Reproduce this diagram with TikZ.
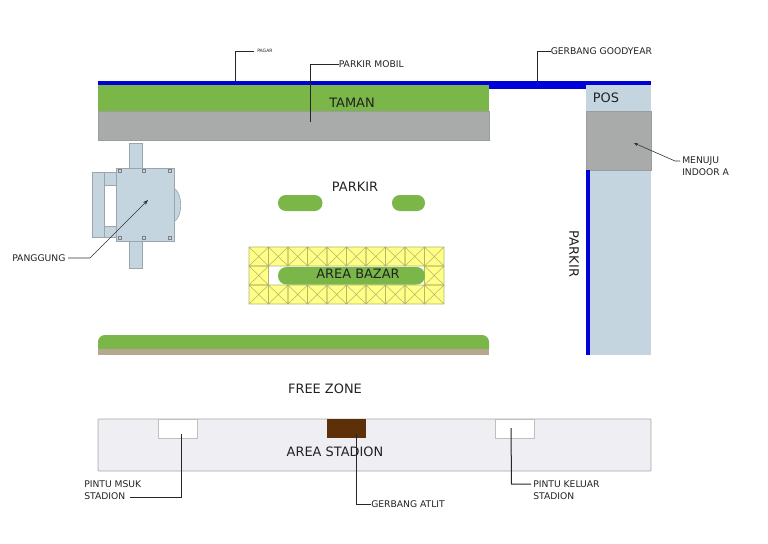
\documentclass[tikz,border=0pt]{standalone}
\usepackage{fontspec}
\setmainfont{DejaVu Sans}
\usetikzlibrary{arrows.meta}
\definecolor{fence}{HTML}{0000D8}
\definecolor{grass}{HTML}{7AB648}
\definecolor{pave}{HTML}{A9ABAA}
\definecolor{sky}{HTML}{C5D5E0}
\definecolor{edgeg}{HTML}{9AA5AC}
\definecolor{tan}{HTML}{B5A88E}
\definecolor{stad}{HTML}{EEEEF3}
\definecolor{brownb}{HTML}{5E3009}
\definecolor{yell}{HTML}{FFFF88}
\definecolor{ink}{HTML}{222222}
\definecolor{tileline}{HTML}{B5B56A}
\tikzset{
  lawn/.style={fill=grass,draw=none},
  paved/.style={fill=pave,draw=pave!92!black,line width=.3pt},
  stagepart/.style={fill=sky,draw=edgeg,line width=.5pt},
  bigtext/.style={font=\fontsize{9.7pt}{11pt}\selectfont,text=ink,inner sep=0pt},
  smalltext/.style={font=\fontsize{6.9pt}{8.8pt}\selectfont,text=ink,inner sep=0pt,align=left},
  leader/.style={draw=black!85,line width=.75pt},
  thin leader/.style={draw=black!80,line width=.45pt},
  door/.style={fill=white,draw=black!25,line width=.4pt},
  bolt/.style={draw=black!50,line width=.3pt,fill=sky},
  tile/.style={draw=tileline,line width=.4pt}
}
\begin{document}
\begin{tikzpicture}[x=0.75pt,y=-0.75pt]
\useasboundingbox (0,0) rectangle (768,543);
% fence
\fill[fence] (98,81) rectangle (651,85);
\fill[fence] (489,85) rectangle (586,89);
% taman + parkir mobil
\fill[lawn] (98,85) rectangle (489,111);
\draw[paved] (98,111) rectangle (489,140);
% right column
\fill[sky] (586,85) rectangle (651,354.5);
\draw[paved] (586,111) rectangle (651,170);
\fill[fence] (586,170) rectangle (590,354.5);
% stage
\draw[stagepart] (129,143) rectangle (142,268);
\draw[stagepart] (92,172) rectangle (104,237);
\draw[stagepart] (104,172) rectangle (117,185);
\draw[stagepart] (104,226) rectangle (117,237);
\draw[stagepart] (174,188) .. controls (183,194) and (183,216) .. (174,222) -- cycle;
\draw[stagepart] (116.5,168) rectangle (174,241);
\foreach \bx in {120,144,170}{
  \foreach \by in {171,238}{
    \draw[bolt] (\bx-1.5,\by-1.5) rectangle (\bx+1.5,\by+1.5);
  }
}
% parking pills
\fill[lawn,rounded corners=5.9pt] (278,195) rectangle (322.5,211);
\fill[lawn,rounded corners=5.9pt] (392,195) rectangle (425,211);
% bazar grid
\fill[yell] (249,247) rectangle (444,304);
\fill[white] (268.5,266) rectangle (424.5,285);
\foreach \i in {0,...,9}{
  \foreach \j/\ya/\yb in {0/247/266,2/285/304}{
    \pgfmathsetmacro{\xa}{249+19.5*\i}
    \pgfmathsetmacro{\xb}{249+19.5*(\i+1)}
    \draw[tile] (\xa,\ya) rectangle (\xb,\yb) (\xa,\ya) -- (\xb,\yb) (\xa,\yb) -- (\xb,\ya);
  }
}
\foreach \xa/\xb in {249/268.5,424.5/444}{
  \draw[tile] (\xa,266) rectangle (\xb,285) (\xa,266) -- (\xb,285) (\xa,285) -- (\xb,266);
}
\fill[lawn,rounded corners=6.4pt] (278,267) rectangle (425,284.5);
% lower strip
\fill[lawn] (98,349) -- (98,342) .. controls (98,338) and (101,335) .. (105,335) -- (482,335) .. controls (486,335) and (489,338) .. (489,342) -- (489,349) -- cycle;
\fill[tan] (98,349) rectangle (489,355);
% stadium
\draw[fill=stad,draw=black!35,line width=.5pt,rounded corners=.6pt] (98,419) rectangle (651,471);
\draw[door] (158,419) rectangle (197,438);
\draw[door] (495,419) rectangle (534,438);
\fill[brownb] (327,419) rectangle (366,438);
% big labels
\node[bigtext] (taman) at (352,103) {TAMAN};
\node[bigtext] (pos) at (606,98) {POS};
\node[bigtext] (parkirA) at (355,187) {PARKIR};
\node[bigtext,rotate=-90] (parkirB) at (574,254) {PARKIR};
\node[bigtext] (bazar) at (358,274) {AREA BAZAR};
\node[bigtext] (free) at (325,389) {FREE ZONE};
\node[bigtext] (stadion) at (335,452) {AREA STADION};
% callouts
\node[smalltext,anchor=west,font=\fontsize{3.4pt}{4pt}\selectfont] (pagar) at (257,51) {PAGAR};
\node[smalltext,anchor=west] (mobil) at (338.5,64) {PARKIR MOBIL};
\node[smalltext,anchor=west] (goodyear) at (550.5,51) {GERBANG GOODYEAR};
\node[smalltext,anchor=west] (menuju) at (682,166.5) {MENUJU\\INDOOR A};
\node[smalltext,anchor=west] (panggung) at (12,258) {PANGGUNG};
\node[smalltext,anchor=west] (masuk) at (84,490.5) {PINTU MSUK\\STADION};
\node[smalltext,anchor=west] (atlit) at (371,504) {GERBANG ATLIT};
\node[smalltext,anchor=west] (keluar) at (533,490) {PINTU KELUAR\\STADION};
\coordinate (c1) at (235,81);
\coordinate (c2) at (310,122);
\coordinate (c3) at (537,81);
\coordinate (c4) at (634,143);
\coordinate (c5) at (148,200);
\coordinate (c6) at (181,434);
\coordinate (c7) at (356,434);
\coordinate (c8) at (511,428);
\draw[leader] (c1) -- (235,51) -- (pagar.west -| 254,51);
\draw[leader] (c2) -- (310,64) -- (mobil.west);
\draw[leader] (c3) -- (537,51) -- (goodyear.west);
\draw[thin leader,-{Stealth[length=3pt,width=2.5pt]}] (680,161) -- (675,161) -- (c4);
\draw[thin leader,-{Stealth[length=4pt,width=3pt]}] (68,258) -- (90,258) -- (c5);
\draw[leader] (c6) -- (181,497) -- (130,497);
\draw[leader] (c7) -- (356,504) -- (atlit.west);
\draw[leader] (c8) -- (511.5,484) -- (531,484);
\end{tikzpicture}
\end{document}
